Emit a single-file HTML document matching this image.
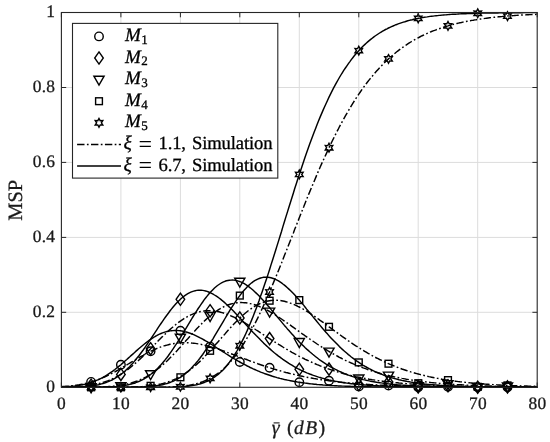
<!DOCTYPE html>
<html><head><meta charset="utf-8"><title>MSP plot</title>
<style>html,body{margin:0;padding:0;background:#fff}body{width:550px;height:442px;position:relative;overflow:hidden}</style>
</head><body>
<svg width="550" height="442" viewBox="0 0 550 442" text-rendering="geometricPrecision" style="position:absolute;left:0;top:0">
<rect width="550" height="442" fill="#fff"/>
<path d="M120.9,12.5 V387.3 M180.4,12.5 V387.3 M239.8,12.5 V387.3 M299.3,12.5 V387.3 M358.8,12.5 V387.3 M418.2,12.5 V387.3 M477.7,12.5 V387.3 M61.4,312.3 H537.2 M61.4,237.4 H537.2 M61.4,162.4 H537.2 M61.4,87.5 H537.2" stroke="#dcdcdc" stroke-width="1" fill="none"/>
<g fill="none" stroke="#000" stroke-width="1.45" stroke-linejoin="round">
<path d="M61.4,387.0 L62.9,386.9 L64.4,386.8 L65.9,386.7 L67.3,386.6 L68.8,386.5 L70.3,386.4 L71.8,386.3 L73.3,386.1 L74.8,386.0 L76.3,385.8 L77.8,385.6 L79.2,385.4 L80.7,385.1 L82.2,384.8 L83.7,384.5 L85.2,384.2 L86.7,383.8 L88.2,383.4 L89.7,383.0 L91.1,382.5 L92.6,382.0 L94.1,381.4 L95.6,380.9 L97.1,380.2 L98.6,379.6 L100.1,378.8 L101.5,378.1 L103.0,377.3 L104.5,376.5 L106.0,375.6 L107.5,374.7 L109.0,373.7 L110.5,372.7 L112.0,371.7 L113.4,370.6 L114.9,369.5 L116.4,368.3 L117.9,367.1 L119.4,365.9 L120.9,364.7 L122.4,363.4 L123.8,362.1 L125.3,360.8 L126.8,359.5 L128.3,358.1 L129.8,356.8 L131.3,355.4 L132.8,354.1 L134.3,352.8 L135.7,351.4 L137.2,350.1 L138.7,348.8 L140.2,347.5 L141.7,346.2 L143.2,345.0 L144.7,343.8 L146.2,342.6 L147.6,341.5 L149.1,340.4 L150.6,339.4 L152.1,338.4 L153.6,337.4 L155.1,336.5 L156.6,335.7 L158.0,334.9 L159.5,334.2 L161.0,333.5 L162.5,332.9 L164.0,332.4 L165.5,331.9 L167.0,331.5 L168.5,331.2 L169.9,330.9 L171.4,330.7 L172.9,330.6 L174.4,330.5 L175.9,330.5 L177.4,330.5 L178.9,330.6 L180.4,330.8 L181.8,331.0 L183.3,331.3 L184.8,331.7 L186.3,332.0 L187.8,332.5 L189.3,333.0 L190.8,333.5 L192.2,334.1 L193.7,334.7 L195.2,335.4 L196.7,336.1 L198.2,336.8 L199.7,337.6 L201.2,338.3 L202.7,339.2 L204.1,340.0 L205.6,340.9 L207.1,341.7 L208.6,342.6 L210.1,343.6 L211.6,344.5 L213.1,345.4 L214.5,346.4 L216.0,347.3 L217.5,348.3 L219.0,349.2 L220.5,350.2 L222.0,351.1 L223.5,352.1 L225.0,353.0 L226.4,354.0 L227.9,354.9 L229.4,355.8 L230.9,356.8 L232.4,357.7 L233.9,358.6 L235.4,359.4 L236.9,360.3 L238.3,361.2 L239.8,362.0 L241.3,362.8 L242.8,363.7 L244.3,364.4 L245.8,365.2 L247.3,366.0 L248.7,366.7 L250.2,367.5 L251.7,368.2 L253.2,368.9 L254.7,369.5 L256.2,370.2 L257.7,370.8 L259.2,371.4 L260.6,372.1 L262.1,372.6 L263.6,373.2 L265.1,373.8 L266.6,374.3 L268.1,374.8 L269.6,375.3 L271.0,375.8 L272.5,376.3 L274.0,376.7 L275.5,377.1 L277.0,377.6 L278.5,378.0 L280.0,378.4 L281.5,378.7 L282.9,379.1 L284.4,379.5 L285.9,379.8 L287.4,380.1 L288.9,380.4 L290.4,380.7 L291.9,381.0 L293.4,381.3 L294.8,381.6 L296.3,381.8 L297.8,382.1 L299.3,382.3 L300.8,382.5 L302.3,382.7 L303.8,382.9 L305.2,383.1 L306.7,383.3 L308.2,383.5 L309.7,383.7 L311.2,383.9 L312.7,384.0 L314.2,384.2 L315.7,384.3 L317.1,384.5 L318.6,384.6 L320.1,384.7 L321.6,384.8 L323.1,385.0 L324.6,385.1 L326.1,385.2 L327.6,385.3 L329.0,385.4 L330.5,385.5 L332.0,385.6 L333.5,385.6 L335.0,385.7 L336.5,385.8 L338.0,385.9 L339.4,385.9 L340.9,386.0 L342.4,386.1 L343.9,386.1 L345.4,386.2 L346.9,386.2 L348.4,386.3 L349.9,386.3 L351.3,386.4 L352.8,386.4 L354.3,386.5 L355.8,386.5 L357.3,386.6 L358.8,386.6 L360.3,386.6 L361.7,386.7 L363.2,386.7 L364.7,386.7 L366.2,386.8 L367.7,386.8 L369.2,386.8 L370.7,386.8 L372.2,386.9 L373.6,386.9 L375.1,386.9 L376.6,386.9 L378.1,386.9 L379.6,387.0 L381.1,387.0 L382.6,387.0 L384.1,387.0 L385.5,387.0 L387.0,387.0 L388.5,387.0 L390.0,387.1 L391.5,387.1 L393.0,387.1 L394.5,387.1 L395.9,387.1 L397.4,387.1 L398.9,387.1 L400.4,387.1 L401.9,387.1 L403.4,387.2 L404.9,387.2 L406.4,387.2 L407.8,387.2 L409.3,387.2 L410.8,387.2 L412.3,387.2 L413.8,387.2 L415.3,387.2 L416.8,387.2 L418.2,387.2 L419.7,387.2 L421.2,387.2 L422.7,387.2 L424.2,387.2 L425.7,387.2 L427.2,387.2 L428.7,387.2 L430.1,387.2 L431.6,387.2 L433.1,387.2 L434.6,387.3 L436.1,387.3 L437.6,387.3 L439.1,387.3 L440.6,387.3 L442.0,387.3 L443.5,387.3 L445.0,387.3 L446.5,387.3 L448.0,387.3 L449.5,387.3 L451.0,387.3 L452.4,387.3 L453.9,387.3 L455.4,387.3 L456.9,387.3 L458.4,387.3 L459.9,387.3 L461.4,387.3 L462.9,387.3 L464.3,387.3 L465.8,387.3 L467.3,387.3 L468.8,387.3 L470.3,387.3 L471.8,387.3 L473.3,387.3 L474.8,387.3 L476.2,387.3 L477.7,387.3 L479.2,387.3 L480.7,387.3 L482.2,387.3 L483.7,387.3 L485.2,387.3 L486.6,387.3 L488.1,387.3 L489.6,387.3 L491.1,387.3 L492.6,387.3 L494.1,387.3 L495.6,387.3 L497.1,387.3 L498.5,387.3 L500.0,387.3 L501.5,387.3 L503.0,387.3 L504.5,387.3 L506.0,387.3 L507.5,387.3 L508.9,387.3 L510.4,387.3 L511.9,387.3 L513.4,387.3 L514.9,387.3 L516.4,387.3 L517.9,387.3 L519.4,387.3 L520.8,387.3 L522.3,387.3 L523.8,387.3 L525.3,387.3 L526.8,387.3 L528.3,387.3 L529.8,387.3 L531.3,387.3 L532.7,387.3 L534.2,387.3 L535.7,387.3 L537.2,387.3"/>
<path d="M61.4,387.3 L62.9,387.2 L64.4,387.2 L65.9,387.2 L67.3,387.2 L68.8,387.2 L70.3,387.2 L71.8,387.1 L73.3,387.1 L74.8,387.1 L76.3,387.0 L77.8,387.0 L79.2,386.9 L80.7,386.8 L82.2,386.7 L83.7,386.7 L85.2,386.5 L86.7,386.4 L88.2,386.3 L89.7,386.1 L91.1,385.9 L92.6,385.7 L94.1,385.5 L95.6,385.3 L97.1,385.0 L98.6,384.7 L100.1,384.3 L101.5,383.9 L103.0,383.5 L104.5,383.0 L106.0,382.5 L107.5,381.9 L109.0,381.3 L110.5,380.7 L112.0,380.0 L113.4,379.2 L114.9,378.3 L116.4,377.4 L117.9,376.5 L119.4,375.5 L120.9,374.4 L122.4,373.2 L123.8,372.0 L125.3,370.7 L126.8,369.3 L128.3,367.9 L129.8,366.4 L131.3,364.8 L132.8,363.2 L134.3,361.4 L135.7,359.7 L137.2,357.8 L138.7,356.0 L140.2,354.0 L141.7,352.0 L143.2,350.0 L144.7,347.9 L146.2,345.7 L147.6,343.6 L149.1,341.4 L150.6,339.2 L152.1,336.9 L153.6,334.7 L155.1,332.4 L156.6,330.2 L158.0,327.9 L159.5,325.7 L161.0,323.5 L162.5,321.3 L164.0,319.2 L165.5,317.0 L167.0,315.0 L168.5,313.0 L169.9,311.0 L171.4,309.1 L172.9,307.3 L174.4,305.5 L175.9,303.8 L177.4,302.2 L178.9,300.7 L180.4,299.3 L181.8,298.0 L183.3,296.8 L184.8,295.6 L186.3,294.6 L187.8,293.7 L189.3,292.9 L190.8,292.2 L192.2,291.6 L193.7,291.1 L195.2,290.7 L196.7,290.4 L198.2,290.3 L199.7,290.2 L201.2,290.3 L202.7,290.4 L204.1,290.6 L205.6,291.0 L207.1,291.4 L208.6,292.0 L210.1,292.6 L211.6,293.3 L213.1,294.1 L214.5,295.0 L216.0,295.9 L217.5,296.9 L219.0,298.0 L220.5,299.1 L222.0,300.4 L223.5,301.6 L225.0,302.9 L226.4,304.3 L227.9,305.7 L229.4,307.1 L230.9,308.6 L232.4,310.1 L233.9,311.6 L235.4,313.2 L236.9,314.8 L238.3,316.4 L239.8,318.0 L241.3,319.6 L242.8,321.2 L244.3,322.8 L245.8,324.4 L247.3,326.1 L248.7,327.7 L250.2,329.3 L251.7,330.9 L253.2,332.5 L254.7,334.0 L256.2,335.6 L257.7,337.1 L259.2,338.6 L260.6,340.1 L262.1,341.6 L263.6,343.1 L265.1,344.5 L266.6,345.9 L268.1,347.2 L269.6,348.6 L271.0,349.9 L272.5,351.2 L274.0,352.5 L275.5,353.7 L277.0,354.9 L278.5,356.1 L280.0,357.2 L281.5,358.3 L282.9,359.4 L284.4,360.4 L285.9,361.4 L287.4,362.4 L288.9,363.4 L290.4,364.3 L291.9,365.2 L293.4,366.1 L294.8,367.0 L296.3,367.8 L297.8,368.6 L299.3,369.3 L300.8,370.1 L302.3,370.8 L303.8,371.5 L305.2,372.1 L306.7,372.8 L308.2,373.4 L309.7,374.0 L311.2,374.5 L312.7,375.1 L314.2,375.6 L315.7,376.1 L317.1,376.6 L318.6,377.1 L320.1,377.5 L321.6,378.0 L323.1,378.4 L324.6,378.8 L326.1,379.2 L327.6,379.5 L329.0,379.9 L330.5,380.2 L332.0,380.6 L333.5,380.9 L335.0,381.2 L336.5,381.4 L338.0,381.7 L339.4,382.0 L340.9,382.2 L342.4,382.5 L343.9,382.7 L345.4,382.9 L346.9,383.1 L348.4,383.3 L349.9,383.5 L351.3,383.7 L352.8,383.9 L354.3,384.0 L355.8,384.2 L357.3,384.3 L358.8,384.5 L360.3,384.6 L361.7,384.7 L363.2,384.9 L364.7,385.0 L366.2,385.1 L367.7,385.2 L369.2,385.3 L370.7,385.4 L372.2,385.5 L373.6,385.6 L375.1,385.7 L376.6,385.8 L378.1,385.8 L379.6,385.9 L381.1,386.0 L382.6,386.0 L384.1,386.1 L385.5,386.2 L387.0,386.2 L388.5,386.3 L390.0,386.3 L391.5,386.4 L393.0,386.4 L394.5,386.5 L395.9,386.5 L397.4,386.5 L398.9,386.6 L400.4,386.6 L401.9,386.7 L403.4,386.7 L404.9,386.7 L406.4,386.7 L407.8,386.8 L409.3,386.8 L410.8,386.8 L412.3,386.8 L413.8,386.9 L415.3,386.9 L416.8,386.9 L418.2,386.9 L419.7,387.0 L421.2,387.0 L422.7,387.0 L424.2,387.0 L425.7,387.0 L427.2,387.0 L428.7,387.0 L430.1,387.1 L431.6,387.1 L433.1,387.1 L434.6,387.1 L436.1,387.1 L437.6,387.1 L439.1,387.1 L440.6,387.1 L442.0,387.1 L443.5,387.2 L445.0,387.2 L446.5,387.2 L448.0,387.2 L449.5,387.2 L451.0,387.2 L452.4,387.2 L453.9,387.2 L455.4,387.2 L456.9,387.2 L458.4,387.2 L459.9,387.2 L461.4,387.2 L462.9,387.2 L464.3,387.2 L465.8,387.2 L467.3,387.2 L468.8,387.2 L470.3,387.2 L471.8,387.2 L473.3,387.2 L474.8,387.3 L476.2,387.3 L477.7,387.3 L479.2,387.3 L480.7,387.3 L482.2,387.3 L483.7,387.3 L485.2,387.3 L486.6,387.3 L488.1,387.3 L489.6,387.3 L491.1,387.3 L492.6,387.3 L494.1,387.3 L495.6,387.3 L497.1,387.3 L498.5,387.3 L500.0,387.3 L501.5,387.3 L503.0,387.3 L504.5,387.3 L506.0,387.3 L507.5,387.3 L508.9,387.3 L510.4,387.3 L511.9,387.3 L513.4,387.3 L514.9,387.3 L516.4,387.3 L517.9,387.3 L519.4,387.3 L520.8,387.3 L522.3,387.3 L523.8,387.3 L525.3,387.3 L526.8,387.3 L528.3,387.3 L529.8,387.3 L531.3,387.3 L532.7,387.3 L534.2,387.3 L535.7,387.3 L537.2,387.3"/>
<path d="M61.4,387.3 L62.9,387.3 L64.4,387.3 L65.9,387.3 L67.3,387.3 L68.8,387.3 L70.3,387.3 L71.8,387.3 L73.3,387.3 L74.8,387.3 L76.3,387.3 L77.8,387.3 L79.2,387.3 L80.7,387.3 L82.2,387.3 L83.7,387.3 L85.2,387.3 L86.7,387.3 L88.2,387.3 L89.7,387.3 L91.1,387.3 L92.6,387.3 L94.1,387.2 L95.6,387.2 L97.1,387.2 L98.6,387.2 L100.1,387.2 L101.5,387.1 L103.0,387.1 L104.5,387.1 L106.0,387.0 L107.5,387.0 L109.0,386.9 L110.5,386.9 L112.0,386.8 L113.4,386.7 L114.9,386.6 L116.4,386.5 L117.9,386.3 L119.4,386.2 L120.9,386.0 L122.4,385.8 L123.8,385.6 L125.3,385.3 L126.8,385.1 L128.3,384.8 L129.8,384.4 L131.3,384.0 L132.8,383.6 L134.3,383.2 L135.7,382.7 L137.2,382.1 L138.7,381.5 L140.2,380.8 L141.7,380.1 L143.2,379.3 L144.7,378.5 L146.2,377.6 L147.6,376.6 L149.1,375.6 L150.6,374.5 L152.1,373.3 L153.6,372.1 L155.1,370.8 L156.6,369.4 L158.0,367.9 L159.5,366.3 L161.0,364.7 L162.5,363.0 L164.0,361.2 L165.5,359.4 L167.0,357.5 L168.5,355.5 L169.9,353.4 L171.4,351.3 L172.9,349.2 L174.4,346.9 L175.9,344.7 L177.4,342.3 L178.9,340.0 L180.4,337.6 L181.8,335.2 L183.3,332.7 L184.8,330.3 L186.3,327.8 L187.8,325.3 L189.3,322.9 L190.8,320.4 L192.2,318.0 L193.7,315.6 L195.2,313.2 L196.7,310.8 L198.2,308.5 L199.7,306.3 L201.2,304.1 L202.7,302.0 L204.1,299.9 L205.6,298.0 L207.1,296.1 L208.6,294.3 L210.1,292.6 L211.6,290.9 L213.1,289.4 L214.5,288.0 L216.0,286.7 L217.5,285.5 L219.0,284.5 L220.5,283.5 L222.0,282.6 L223.5,281.9 L225.0,281.3 L226.4,280.8 L227.9,280.5 L229.4,280.2 L230.9,280.1 L232.4,280.0 L233.9,280.1 L235.4,280.3 L236.9,280.6 L238.3,281.1 L239.8,281.6 L241.3,282.2 L242.8,282.9 L244.3,283.7 L245.8,284.6 L247.3,285.6 L248.7,286.7 L250.2,287.8 L251.7,289.0 L253.2,290.3 L254.7,291.7 L256.2,293.1 L257.7,294.5 L259.2,296.0 L260.6,297.6 L262.1,299.2 L263.6,300.8 L265.1,302.5 L266.6,304.2 L268.1,305.9 L269.6,307.6 L271.0,309.4 L272.5,311.2 L274.0,312.9 L275.5,314.7 L277.0,316.5 L278.5,318.3 L280.0,320.1 L281.5,321.9 L282.9,323.6 L284.4,325.4 L285.9,327.1 L287.4,328.9 L288.9,330.6 L290.4,332.3 L291.9,333.9 L293.4,335.6 L294.8,337.2 L296.3,338.8 L297.8,340.3 L299.3,341.9 L300.8,343.4 L302.3,344.9 L303.8,346.3 L305.2,347.7 L306.7,349.1 L308.2,350.4 L309.7,351.8 L311.2,353.0 L312.7,354.3 L314.2,355.5 L315.7,356.7 L317.1,357.8 L318.6,359.0 L320.1,360.1 L321.6,361.1 L323.1,362.1 L324.6,363.1 L326.1,364.1 L327.6,365.0 L329.0,365.9 L330.5,366.8 L332.0,367.6 L333.5,368.4 L335.0,369.2 L336.5,369.9 L338.0,370.7 L339.4,371.4 L340.9,372.0 L342.4,372.7 L343.9,373.3 L345.4,373.9 L346.9,374.5 L348.4,375.1 L349.9,375.6 L351.3,376.1 L352.8,376.6 L354.3,377.1 L355.8,377.5 L357.3,378.0 L358.8,378.4 L360.3,378.8 L361.7,379.2 L363.2,379.6 L364.7,379.9 L366.2,380.3 L367.7,380.6 L369.2,380.9 L370.7,381.2 L372.2,381.5 L373.6,381.7 L375.1,382.0 L376.6,382.3 L378.1,382.5 L379.6,382.7 L381.1,382.9 L382.6,383.1 L384.1,383.3 L385.5,383.5 L387.0,383.7 L388.5,383.9 L390.0,384.0 L391.5,384.2 L393.0,384.4 L394.5,384.5 L395.9,384.6 L397.4,384.8 L398.9,384.9 L400.4,385.0 L401.9,385.1 L403.4,385.2 L404.9,385.3 L406.4,385.4 L407.8,385.5 L409.3,385.6 L410.8,385.7 L412.3,385.8 L413.8,385.8 L415.3,385.9 L416.8,386.0 L418.2,386.0 L419.7,386.1 L421.2,386.2 L422.7,386.2 L424.2,386.3 L425.7,386.3 L427.2,386.4 L428.7,386.4 L430.1,386.5 L431.6,386.5 L433.1,386.6 L434.6,386.6 L436.1,386.6 L437.6,386.7 L439.1,386.7 L440.6,386.7 L442.0,386.8 L443.5,386.8 L445.0,386.8 L446.5,386.8 L448.0,386.9 L449.5,386.9 L451.0,386.9 L452.4,386.9 L453.9,386.9 L455.4,387.0 L456.9,387.0 L458.4,387.0 L459.9,387.0 L461.4,387.0 L462.9,387.0 L464.3,387.1 L465.8,387.1 L467.3,387.1 L468.8,387.1 L470.3,387.1 L471.8,387.1 L473.3,387.1 L474.8,387.1 L476.2,387.1 L477.7,387.1 L479.2,387.2 L480.7,387.2 L482.2,387.2 L483.7,387.2 L485.2,387.2 L486.6,387.2 L488.1,387.2 L489.6,387.2 L491.1,387.2 L492.6,387.2 L494.1,387.2 L495.6,387.2 L497.1,387.2 L498.5,387.2 L500.0,387.2 L501.5,387.2 L503.0,387.2 L504.5,387.2 L506.0,387.2 L507.5,387.2 L508.9,387.2 L510.4,387.3 L511.9,387.3 L513.4,387.3 L514.9,387.3 L516.4,387.3 L517.9,387.3 L519.4,387.3 L520.8,387.3 L522.3,387.3 L523.8,387.3 L525.3,387.3 L526.8,387.3 L528.3,387.3 L529.8,387.3 L531.3,387.3 L532.7,387.3 L534.2,387.3 L535.7,387.3 L537.2,387.3"/>
<path d="M61.4,387.3 L62.9,387.3 L64.4,387.3 L65.9,387.3 L67.3,387.3 L68.8,387.3 L70.3,387.3 L71.8,387.3 L73.3,387.3 L74.8,387.3 L76.3,387.3 L77.8,387.3 L79.2,387.3 L80.7,387.3 L82.2,387.3 L83.7,387.3 L85.2,387.3 L86.7,387.3 L88.2,387.3 L89.7,387.3 L91.1,387.3 L92.6,387.3 L94.1,387.3 L95.6,387.3 L97.1,387.3 L98.6,387.3 L100.1,387.3 L101.5,387.3 L103.0,387.3 L104.5,387.3 L106.0,387.3 L107.5,387.3 L109.0,387.3 L110.5,387.3 L112.0,387.3 L113.4,387.3 L114.9,387.3 L116.4,387.3 L117.9,387.3 L119.4,387.3 L120.9,387.3 L122.4,387.3 L123.8,387.3 L125.3,387.3 L126.8,387.3 L128.3,387.2 L129.8,387.2 L131.3,387.2 L132.8,387.2 L134.3,387.2 L135.7,387.1 L137.2,387.1 L138.7,387.1 L140.2,387.0 L141.7,387.0 L143.2,386.9 L144.7,386.8 L146.2,386.8 L147.6,386.7 L149.1,386.6 L150.6,386.4 L152.1,386.3 L153.6,386.1 L155.1,385.9 L156.6,385.7 L158.0,385.5 L159.5,385.3 L161.0,385.0 L162.5,384.7 L164.0,384.3 L165.5,383.9 L167.0,383.5 L168.5,383.0 L169.9,382.5 L171.4,381.9 L172.9,381.3 L174.4,380.6 L175.9,379.8 L177.4,379.0 L178.9,378.2 L180.4,377.3 L181.8,376.3 L183.3,375.2 L184.8,374.1 L186.3,372.8 L187.8,371.6 L189.3,370.2 L190.8,368.8 L192.2,367.2 L193.7,365.6 L195.2,364.0 L196.7,362.2 L198.2,360.4 L199.7,358.5 L201.2,356.5 L202.7,354.5 L204.1,352.4 L205.6,350.2 L207.1,348.0 L208.6,345.7 L210.1,343.4 L211.6,341.0 L213.1,338.6 L214.5,336.2 L216.0,333.7 L217.5,331.2 L219.0,328.7 L220.5,326.1 L222.0,323.6 L223.5,321.1 L225.0,318.5 L226.4,316.1 L227.9,313.6 L229.4,311.1 L230.9,308.7 L232.4,306.4 L233.9,304.1 L235.4,301.9 L236.9,299.7 L238.3,297.6 L239.8,295.6 L241.3,293.6 L242.8,291.8 L244.3,290.0 L245.8,288.4 L247.3,286.8 L248.7,285.4 L250.2,284.0 L251.7,282.8 L253.2,281.7 L254.7,280.7 L256.2,279.9 L257.7,279.1 L259.2,278.5 L260.6,278.0 L262.1,277.6 L263.6,277.3 L265.1,277.2 L266.6,277.2 L268.1,277.3 L269.6,277.5 L271.0,277.8 L272.5,278.2 L274.0,278.7 L275.5,279.4 L277.0,280.1 L278.5,280.9 L280.0,281.9 L281.5,282.9 L282.9,284.0 L284.4,285.1 L285.9,286.4 L287.4,287.7 L288.9,289.1 L290.4,290.5 L291.9,292.0 L293.4,293.5 L294.8,295.1 L296.3,296.8 L297.8,298.4 L299.3,300.1 L300.8,301.9 L302.3,303.6 L303.8,305.4 L305.2,307.2 L306.7,309.1 L308.2,310.9 L309.7,312.7 L311.2,314.5 L312.7,316.4 L314.2,318.2 L315.7,320.0 L317.1,321.8 L318.6,323.6 L320.1,325.4 L321.6,327.2 L323.1,329.0 L324.6,330.7 L326.1,332.4 L327.6,334.1 L329.0,335.8 L330.5,337.4 L332.0,339.0 L333.5,340.6 L335.0,342.1 L336.5,343.6 L338.0,345.1 L339.4,346.6 L340.9,348.0 L342.4,349.4 L343.9,350.7 L345.4,352.0 L346.9,353.3 L348.4,354.6 L349.9,355.8 L351.3,357.0 L352.8,358.1 L354.3,359.2 L355.8,360.3 L357.3,361.4 L358.8,362.4 L360.3,363.4 L361.7,364.3 L363.2,365.3 L364.7,366.2 L366.2,367.0 L367.7,367.8 L369.2,368.7 L370.7,369.4 L372.2,370.2 L373.6,370.9 L375.1,371.6 L376.6,372.3 L378.1,372.9 L379.6,373.5 L381.1,374.1 L382.6,374.7 L384.1,375.3 L385.5,375.8 L387.0,376.3 L388.5,376.8 L390.0,377.2 L391.5,377.7 L393.0,378.1 L394.5,378.5 L395.9,378.9 L397.4,379.3 L398.9,379.7 L400.4,380.0 L401.9,380.4 L403.4,380.7 L404.9,381.0 L406.4,381.3 L407.8,381.6 L409.3,381.8 L410.8,382.1 L412.3,382.3 L413.8,382.6 L415.3,382.8 L416.8,383.0 L418.2,383.2 L419.7,383.4 L421.2,383.6 L422.7,383.8 L424.2,383.9 L425.7,384.1 L427.2,384.3 L428.7,384.4 L430.1,384.5 L431.6,384.7 L433.1,384.8 L434.6,384.9 L436.1,385.0 L437.6,385.2 L439.1,385.3 L440.6,385.4 L442.0,385.5 L443.5,385.6 L445.0,385.6 L446.5,385.7 L448.0,385.8 L449.5,385.9 L451.0,385.9 L452.4,386.0 L453.9,386.1 L455.4,386.1 L456.9,386.2 L458.4,386.2 L459.9,386.3 L461.4,386.4 L462.9,386.4 L464.3,386.4 L465.8,386.5 L467.3,386.5 L468.8,386.6 L470.3,386.6 L471.8,386.6 L473.3,386.7 L474.8,386.7 L476.2,386.7 L477.7,386.8 L479.2,386.8 L480.7,386.8 L482.2,386.8 L483.7,386.9 L485.2,386.9 L486.6,386.9 L488.1,386.9 L489.6,386.9 L491.1,387.0 L492.6,387.0 L494.1,387.0 L495.6,387.0 L497.1,387.0 L498.5,387.0 L500.0,387.1 L501.5,387.1 L503.0,387.1 L504.5,387.1 L506.0,387.1 L507.5,387.1 L508.9,387.1 L510.4,387.1 L511.9,387.1 L513.4,387.1 L514.9,387.2 L516.4,387.2 L517.9,387.2 L519.4,387.2 L520.8,387.2 L522.3,387.2 L523.8,387.2 L525.3,387.2 L526.8,387.2 L528.3,387.2 L529.8,387.2 L531.3,387.2 L532.7,387.2 L534.2,387.2 L535.7,387.2 L537.2,387.2"/>
<path d="M61.4,387.3 L62.9,387.3 L64.4,387.3 L65.9,387.3 L67.3,387.3 L68.8,387.3 L70.3,387.3 L71.8,387.3 L73.3,387.3 L74.8,387.3 L76.3,387.3 L77.8,387.3 L79.2,387.3 L80.7,387.3 L82.2,387.3 L83.7,387.3 L85.2,387.3 L86.7,387.3 L88.2,387.3 L89.7,387.3 L91.1,387.3 L92.6,387.3 L94.1,387.3 L95.6,387.3 L97.1,387.3 L98.6,387.3 L100.1,387.3 L101.5,387.3 L103.0,387.3 L104.5,387.3 L106.0,387.3 L107.5,387.3 L109.0,387.3 L110.5,387.3 L112.0,387.3 L113.4,387.3 L114.9,387.3 L116.4,387.3 L117.9,387.3 L119.4,387.3 L120.9,387.3 L122.4,387.3 L123.8,387.3 L125.3,387.3 L126.8,387.3 L128.3,387.3 L129.8,387.3 L131.3,387.3 L132.8,387.3 L134.3,387.3 L135.7,387.3 L137.2,387.3 L138.7,387.3 L140.2,387.3 L141.7,387.3 L143.2,387.3 L144.7,387.3 L146.2,387.3 L147.6,387.3 L149.1,387.3 L150.6,387.3 L152.1,387.3 L153.6,387.3 L155.1,387.3 L156.6,387.3 L158.0,387.3 L159.5,387.3 L161.0,387.3 L162.5,387.2 L164.0,387.2 L165.5,387.2 L167.0,387.2 L168.5,387.2 L169.9,387.1 L171.4,387.1 L172.9,387.1 L174.4,387.0 L175.9,387.0 L177.4,386.9 L178.9,386.9 L180.4,386.8 L181.8,386.7 L183.3,386.6 L184.8,386.5 L186.3,386.3 L187.8,386.2 L189.3,386.0 L190.8,385.8 L192.2,385.6 L193.7,385.3 L195.2,385.0 L196.7,384.7 L198.2,384.3 L199.7,384.0 L201.2,383.5 L202.7,383.0 L204.1,382.5 L205.6,381.9 L207.1,381.3 L208.6,380.6 L210.1,379.8 L211.6,379.0 L213.1,378.0 L214.5,377.1 L216.0,376.0 L217.5,374.9 L219.0,373.6 L220.5,372.3 L222.0,370.9 L223.5,369.4 L225.0,367.8 L226.4,366.1 L227.9,364.2 L229.4,362.3 L230.9,360.3 L232.4,358.1 L233.9,355.9 L235.4,353.5 L236.9,351.0 L238.3,348.4 L239.8,345.7 L241.3,342.9 L242.8,339.9 L244.3,336.9 L245.8,333.7 L247.3,330.4 L248.7,327.0 L250.2,323.5 L251.7,319.9 L253.2,316.2 L254.7,312.3 L256.2,308.4 L257.7,304.4 L259.2,300.3 L260.6,296.1 L262.1,291.9 L263.6,287.5 L265.1,283.1 L266.6,278.7 L268.1,274.1 L269.6,269.5 L271.0,264.9 L272.5,260.2 L274.0,255.5 L275.5,250.7 L277.0,245.9 L278.5,241.1 L280.0,236.3 L281.5,231.5 L282.9,226.6 L284.4,221.8 L285.9,216.9 L287.4,212.1 L288.9,207.3 L290.4,202.5 L291.9,197.7 L293.4,193.0 L294.8,188.3 L296.3,183.7 L297.8,179.0 L299.3,174.5 L300.8,170.0 L302.3,165.5 L303.8,161.1 L305.2,156.7 L306.7,152.5 L308.2,148.2 L309.7,144.1 L311.2,140.0 L312.7,136.0 L314.2,132.1 L315.7,128.2 L317.1,124.4 L318.6,120.7 L320.1,117.1 L321.6,113.6 L323.1,110.1 L324.6,106.8 L326.1,103.5 L327.6,100.2 L329.0,97.1 L330.5,94.1 L332.0,91.1 L333.5,88.2 L335.0,85.4 L336.5,82.7 L338.0,80.0 L339.4,77.5 L340.9,75.0 L342.4,72.6 L343.9,70.2 L345.4,68.0 L346.9,65.8 L348.4,63.6 L349.9,61.6 L351.3,59.6 L352.8,57.7 L354.3,55.8 L355.8,54.0 L357.3,52.3 L358.8,50.7 L360.3,49.1 L361.7,47.5 L363.2,46.0 L364.7,44.6 L366.2,43.2 L367.7,41.9 L369.2,40.6 L370.7,39.4 L372.2,38.2 L373.6,37.1 L375.1,36.0 L376.6,35.0 L378.1,34.0 L379.6,33.0 L381.1,32.1 L382.6,31.2 L384.1,30.3 L385.5,29.5 L387.0,28.8 L388.5,28.0 L390.0,27.3 L391.5,26.6 L393.0,26.0 L394.5,25.3 L395.9,24.7 L397.4,24.2 L398.9,23.6 L400.4,23.1 L401.9,22.6 L403.4,22.1 L404.9,21.7 L406.4,21.2 L407.8,20.8 L409.3,20.4 L410.8,20.0 L412.3,19.7 L413.8,19.3 L415.3,19.0 L416.8,18.7 L418.2,18.4 L419.7,18.1 L421.2,17.8 L422.7,17.6 L424.2,17.3 L425.7,17.1 L427.2,16.9 L428.7,16.6 L430.1,16.4 L431.6,16.2 L433.1,16.1 L434.6,15.9 L436.1,15.7 L437.6,15.6 L439.1,15.4 L440.6,15.3 L442.0,15.1 L443.5,15.0 L445.0,14.9 L446.5,14.8 L448.0,14.6 L449.5,14.5 L451.0,14.4 L452.4,14.3 L453.9,14.2 L455.4,14.2 L456.9,14.1 L458.4,14.0 L459.9,13.9 L461.4,13.8 L462.9,13.8 L464.3,13.7 L465.8,13.7 L467.3,13.6 L468.8,13.5 L470.3,13.5 L471.8,13.4 L473.3,13.4 L474.8,13.3 L476.2,13.3 L477.7,13.3 L479.2,13.2 L480.7,13.2 L482.2,13.1 L483.7,13.1 L485.2,13.1 L486.6,13.1 L488.1,13.0 L489.6,13.0 L491.1,13.0 L492.6,12.9 L494.1,12.9 L495.6,12.9 L497.1,12.9 L498.5,12.9 L500.0,12.8 L501.5,12.8 L503.0,12.8 L504.5,12.8 L506.0,12.8 L507.5,12.8 L508.9,12.8 L510.4,12.7 L511.9,12.7 L513.4,12.7 L514.9,12.7 L516.4,12.7 L517.9,12.7 L519.4,12.7 L520.8,12.7 L522.3,12.7 L523.8,12.6 L525.3,12.6 L526.8,12.6 L528.3,12.6 L529.8,12.6 L531.3,12.6 L532.7,12.6 L534.2,12.6 L535.7,12.6 L537.2,12.6"/>
<path d="M61.4,386.6 L62.9,386.5 L64.4,386.4 L65.9,386.3 L67.3,386.2 L68.8,386.1 L70.3,385.9 L71.8,385.7 L73.3,385.6 L74.8,385.4 L76.3,385.2 L77.8,384.9 L79.2,384.7 L80.7,384.4 L82.2,384.1 L83.7,383.8 L85.2,383.5 L86.7,383.1 L88.2,382.7 L89.7,382.3 L91.1,381.9 L92.6,381.5 L94.1,381.0 L95.6,380.5 L97.1,380.0 L98.6,379.4 L100.1,378.8 L101.5,378.2 L103.0,377.6 L104.5,377.0 L106.0,376.3 L107.5,375.6 L109.0,374.9 L110.5,374.1 L112.0,373.4 L113.4,372.6 L114.9,371.8 L116.4,371.0 L117.9,370.2 L119.4,369.3 L120.9,368.5 L122.4,367.6 L123.8,366.7 L125.3,365.8 L126.8,364.9 L128.3,364.0 L129.8,363.1 L131.3,362.2 L132.8,361.3 L134.3,360.4 L135.7,359.6 L137.2,358.7 L138.7,357.8 L140.2,356.9 L141.7,356.1 L143.2,355.3 L144.7,354.4 L146.2,353.6 L147.6,352.8 L149.1,352.1 L150.6,351.3 L152.1,350.6 L153.6,349.9 L155.1,349.3 L156.6,348.6 L158.0,348.0 L159.5,347.5 L161.0,346.9 L162.5,346.4 L164.0,345.9 L165.5,345.5 L167.0,345.1 L168.5,344.7 L169.9,344.3 L171.4,344.0 L172.9,343.7 L174.4,343.5 L175.9,343.3 L177.4,343.1 L178.9,342.9 L180.4,342.8 L181.8,342.7 L183.3,342.7 L184.8,342.7 L186.3,342.7 L187.8,342.7 L189.3,342.8 L190.8,342.9 L192.2,343.1 L193.7,343.2 L195.2,343.4 L196.7,343.6 L198.2,343.9 L199.7,344.2 L201.2,344.4 L202.7,344.8 L204.1,345.1 L205.6,345.5 L207.1,345.8 L208.6,346.2 L210.1,346.6 L211.6,347.1 L213.1,347.5 L214.5,348.0 L216.0,348.4 L217.5,348.9 L219.0,349.4 L220.5,349.9 L222.0,350.4 L223.5,350.9 L225.0,351.5 L226.4,352.0 L227.9,352.6 L229.4,353.1 L230.9,353.7 L232.4,354.2 L233.9,354.8 L235.4,355.3 L236.9,355.9 L238.3,356.5 L239.8,357.0 L241.3,357.6 L242.8,358.2 L244.3,358.7 L245.8,359.3 L247.3,359.8 L248.7,360.4 L250.2,361.0 L251.7,361.5 L253.2,362.0 L254.7,362.6 L256.2,363.1 L257.7,363.7 L259.2,364.2 L260.6,364.7 L262.1,365.2 L263.6,365.7 L265.1,366.2 L266.6,366.7 L268.1,367.2 L269.6,367.7 L271.0,368.1 L272.5,368.6 L274.0,369.1 L275.5,369.5 L277.0,370.0 L278.5,370.4 L280.0,370.8 L281.5,371.2 L282.9,371.7 L284.4,372.1 L285.9,372.5 L287.4,372.8 L288.9,373.2 L290.4,373.6 L291.9,374.0 L293.4,374.3 L294.8,374.7 L296.3,375.0 L297.8,375.3 L299.3,375.7 L300.8,376.0 L302.3,376.3 L303.8,376.6 L305.2,376.9 L306.7,377.2 L308.2,377.5 L309.7,377.8 L311.2,378.0 L312.7,378.3 L314.2,378.6 L315.7,378.8 L317.1,379.1 L318.6,379.3 L320.1,379.5 L321.6,379.8 L323.1,380.0 L324.6,380.2 L326.1,380.4 L327.6,380.6 L329.0,380.8 L330.5,381.0 L332.0,381.2 L333.5,381.4 L335.0,381.5 L336.5,381.7 L338.0,381.9 L339.4,382.1 L340.9,382.2 L342.4,382.4 L343.9,382.5 L345.4,382.7 L346.9,382.8 L348.4,382.9 L349.9,383.1 L351.3,383.2 L352.8,383.3 L354.3,383.5 L355.8,383.6 L357.3,383.7 L358.8,383.8 L360.3,383.9 L361.7,384.0 L363.2,384.1 L364.7,384.2 L366.2,384.3 L367.7,384.4 L369.2,384.5 L370.7,384.6 L372.2,384.7 L373.6,384.8 L375.1,384.8 L376.6,384.9 L378.1,385.0 L379.6,385.1 L381.1,385.1 L382.6,385.2 L384.1,385.3 L385.5,385.3 L387.0,385.4 L388.5,385.5 L390.0,385.5 L391.5,385.6 L393.0,385.6 L394.5,385.7 L395.9,385.7 L397.4,385.8 L398.9,385.8 L400.4,385.9 L401.9,385.9 L403.4,386.0 L404.9,386.0 L406.4,386.1 L407.8,386.1 L409.3,386.1 L410.8,386.2 L412.3,386.2 L413.8,386.3 L415.3,386.3 L416.8,386.3 L418.2,386.4 L419.7,386.4 L421.2,386.4 L422.7,386.4 L424.2,386.5 L425.7,386.5 L427.2,386.5 L428.7,386.6 L430.1,386.6 L431.6,386.6 L433.1,386.6 L434.6,386.6 L436.1,386.7 L437.6,386.7 L439.1,386.7 L440.6,386.7 L442.0,386.7 L443.5,386.8 L445.0,386.8 L446.5,386.8 L448.0,386.8 L449.5,386.8 L451.0,386.9 L452.4,386.9 L453.9,386.9 L455.4,386.9 L456.9,386.9 L458.4,386.9 L459.9,386.9 L461.4,386.9 L462.9,387.0 L464.3,387.0 L465.8,387.0 L467.3,387.0 L468.8,387.0 L470.3,387.0 L471.8,387.0 L473.3,387.0 L474.8,387.0 L476.2,387.0 L477.7,387.1 L479.2,387.1 L480.7,387.1 L482.2,387.1 L483.7,387.1 L485.2,387.1 L486.6,387.1 L488.1,387.1 L489.6,387.1 L491.1,387.1 L492.6,387.1 L494.1,387.1 L495.6,387.1 L497.1,387.1 L498.5,387.1 L500.0,387.2 L501.5,387.2 L503.0,387.2 L504.5,387.2 L506.0,387.2 L507.5,387.2 L508.9,387.2 L510.4,387.2 L511.9,387.2 L513.4,387.2 L514.9,387.2 L516.4,387.2 L517.9,387.2 L519.4,387.2 L520.8,387.2 L522.3,387.2 L523.8,387.2 L525.3,387.2 L526.8,387.2 L528.3,387.2 L529.8,387.2 L531.3,387.2 L532.7,387.2 L534.2,387.2 L535.7,387.2 L537.2,387.2" stroke-dasharray="7.4,2.4,1.7,2.4"/>
<path d="M61.4,387.2 L62.9,387.1 L64.4,387.1 L65.9,387.1 L67.3,387.1 L68.8,387.0 L70.3,387.0 L71.8,386.9 L73.3,386.8 L74.8,386.8 L76.3,386.7 L77.8,386.6 L79.2,386.5 L80.7,386.4 L82.2,386.3 L83.7,386.1 L85.2,386.0 L86.7,385.8 L88.2,385.6 L89.7,385.4 L91.1,385.2 L92.6,384.9 L94.1,384.6 L95.6,384.3 L97.1,384.0 L98.6,383.7 L100.1,383.3 L101.5,382.9 L103.0,382.4 L104.5,381.9 L106.0,381.4 L107.5,380.9 L109.0,380.3 L110.5,379.7 L112.0,379.0 L113.4,378.3 L114.9,377.6 L116.4,376.8 L117.9,376.0 L119.4,375.1 L120.9,374.2 L122.4,373.3 L123.8,372.3 L125.3,371.3 L126.8,370.2 L128.3,369.1 L129.8,367.9 L131.3,366.7 L132.8,365.5 L134.3,364.3 L135.7,363.0 L137.2,361.7 L138.7,360.3 L140.2,358.9 L141.7,357.5 L143.2,356.1 L144.7,354.6 L146.2,353.2 L147.6,351.7 L149.1,350.2 L150.6,348.7 L152.1,347.2 L153.6,345.6 L155.1,344.1 L156.6,342.6 L158.0,341.1 L159.5,339.6 L161.0,338.1 L162.5,336.6 L164.0,335.2 L165.5,333.7 L167.0,332.3 L168.5,330.9 L169.9,329.6 L171.4,328.2 L172.9,327.0 L174.4,325.7 L175.9,324.5 L177.4,323.3 L178.9,322.2 L180.4,321.1 L181.8,320.1 L183.3,319.1 L184.8,318.1 L186.3,317.3 L187.8,316.4 L189.3,315.6 L190.8,314.9 L192.2,314.3 L193.7,313.7 L195.2,313.1 L196.7,312.6 L198.2,312.2 L199.7,311.8 L201.2,311.5 L202.7,311.2 L204.1,311.0 L205.6,310.8 L207.1,310.7 L208.6,310.7 L210.1,310.7 L211.6,310.8 L213.1,310.9 L214.5,311.1 L216.0,311.3 L217.5,311.5 L219.0,311.8 L220.5,312.2 L222.0,312.6 L223.5,313.0 L225.0,313.5 L226.4,314.0 L227.9,314.6 L229.4,315.2 L230.9,315.8 L232.4,316.5 L233.9,317.1 L235.4,317.9 L236.9,318.6 L238.3,319.4 L239.8,320.2 L241.3,321.0 L242.8,321.8 L244.3,322.7 L245.8,323.5 L247.3,324.4 L248.7,325.3 L250.2,326.2 L251.7,327.2 L253.2,328.1 L254.7,329.0 L256.2,330.0 L257.7,330.9 L259.2,331.9 L260.6,332.9 L262.1,333.8 L263.6,334.8 L265.1,335.8 L266.6,336.7 L268.1,337.7 L269.6,338.6 L271.0,339.6 L272.5,340.6 L274.0,341.5 L275.5,342.4 L277.0,343.4 L278.5,344.3 L280.0,345.2 L281.5,346.1 L282.9,347.0 L284.4,347.9 L285.9,348.8 L287.4,349.7 L288.9,350.6 L290.4,351.4 L291.9,352.3 L293.4,353.1 L294.8,353.9 L296.3,354.7 L297.8,355.5 L299.3,356.3 L300.8,357.0 L302.3,357.8 L303.8,358.5 L305.2,359.3 L306.7,360.0 L308.2,360.7 L309.7,361.4 L311.2,362.0 L312.7,362.7 L314.2,363.3 L315.7,364.0 L317.1,364.6 L318.6,365.2 L320.1,365.8 L321.6,366.4 L323.1,367.0 L324.6,367.5 L326.1,368.1 L327.6,368.6 L329.0,369.1 L330.5,369.6 L332.0,370.1 L333.5,370.6 L335.0,371.1 L336.5,371.5 L338.0,372.0 L339.4,372.4 L340.9,372.9 L342.4,373.3 L343.9,373.7 L345.4,374.1 L346.9,374.5 L348.4,374.8 L349.9,375.2 L351.3,375.6 L352.8,375.9 L354.3,376.2 L355.8,376.6 L357.3,376.9 L358.8,377.2 L360.3,377.5 L361.7,377.8 L363.2,378.1 L364.7,378.4 L366.2,378.6 L367.7,378.9 L369.2,379.2 L370.7,379.4 L372.2,379.7 L373.6,379.9 L375.1,380.1 L376.6,380.3 L378.1,380.6 L379.6,380.8 L381.1,381.0 L382.6,381.2 L384.1,381.4 L385.5,381.5 L387.0,381.7 L388.5,381.9 L390.0,382.1 L391.5,382.2 L393.0,382.4 L394.5,382.6 L395.9,382.7 L397.4,382.8 L398.9,383.0 L400.4,383.1 L401.9,383.3 L403.4,383.4 L404.9,383.5 L406.4,383.6 L407.8,383.8 L409.3,383.9 L410.8,384.0 L412.3,384.1 L413.8,384.2 L415.3,384.3 L416.8,384.4 L418.2,384.5 L419.7,384.6 L421.2,384.7 L422.7,384.7 L424.2,384.8 L425.7,384.9 L427.2,385.0 L428.7,385.1 L430.1,385.1 L431.6,385.2 L433.1,385.3 L434.6,385.3 L436.1,385.4 L437.6,385.5 L439.1,385.5 L440.6,385.6 L442.0,385.6 L443.5,385.7 L445.0,385.7 L446.5,385.8 L448.0,385.8 L449.5,385.9 L451.0,385.9 L452.4,386.0 L453.9,386.0 L455.4,386.1 L456.9,386.1 L458.4,386.2 L459.9,386.2 L461.4,386.2 L462.9,386.3 L464.3,386.3 L465.8,386.3 L467.3,386.4 L468.8,386.4 L470.3,386.4 L471.8,386.5 L473.3,386.5 L474.8,386.5 L476.2,386.5 L477.7,386.6 L479.2,386.6 L480.7,386.6 L482.2,386.6 L483.7,386.7 L485.2,386.7 L486.6,386.7 L488.1,386.7 L489.6,386.7 L491.1,386.8 L492.6,386.8 L494.1,386.8 L495.6,386.8 L497.1,386.8 L498.5,386.8 L500.0,386.9 L501.5,386.9 L503.0,386.9 L504.5,386.9 L506.0,386.9 L507.5,386.9 L508.9,386.9 L510.4,387.0 L511.9,387.0 L513.4,387.0 L514.9,387.0 L516.4,387.0 L517.9,387.0 L519.4,387.0 L520.8,387.0 L522.3,387.0 L523.8,387.0 L525.3,387.1 L526.8,387.1 L528.3,387.1 L529.8,387.1 L531.3,387.1 L532.7,387.1 L534.2,387.1 L535.7,387.1 L537.2,387.1" stroke-dasharray="7.4,2.4,1.7,2.4"/>
<path d="M61.4,387.3 L62.9,387.3 L64.4,387.3 L65.9,387.3 L67.3,387.3 L68.8,387.3 L70.3,387.3 L71.8,387.3 L73.3,387.3 L74.8,387.3 L76.3,387.3 L77.8,387.3 L79.2,387.3 L80.7,387.3 L82.2,387.3 L83.7,387.3 L85.2,387.2 L86.7,387.2 L88.2,387.2 L89.7,387.2 L91.1,387.2 L92.6,387.2 L94.1,387.1 L95.6,387.1 L97.1,387.1 L98.6,387.0 L100.1,387.0 L101.5,386.9 L103.0,386.9 L104.5,386.8 L106.0,386.7 L107.5,386.6 L109.0,386.5 L110.5,386.4 L112.0,386.3 L113.4,386.2 L114.9,386.0 L116.4,385.9 L117.9,385.7 L119.4,385.5 L120.9,385.2 L122.4,385.0 L123.8,384.7 L125.3,384.4 L126.8,384.1 L128.3,383.7 L129.8,383.4 L131.3,383.0 L132.8,382.5 L134.3,382.0 L135.7,381.5 L137.2,381.0 L138.7,380.4 L140.2,379.7 L141.7,379.1 L143.2,378.4 L144.7,377.6 L146.2,376.8 L147.6,376.0 L149.1,375.1 L150.6,374.1 L152.1,373.2 L153.6,372.1 L155.1,371.1 L156.6,369.9 L158.0,368.8 L159.5,367.6 L161.0,366.3 L162.5,365.1 L164.0,363.7 L165.5,362.4 L167.0,361.0 L168.5,359.5 L169.9,358.0 L171.4,356.5 L172.9,355.0 L174.4,353.4 L175.9,351.9 L177.4,350.3 L178.9,348.6 L180.4,347.0 L181.8,345.3 L183.3,343.7 L184.8,342.0 L186.3,340.3 L187.8,338.7 L189.3,337.0 L190.8,335.3 L192.2,333.7 L193.7,332.1 L195.2,330.4 L196.7,328.8 L198.2,327.3 L199.7,325.7 L201.2,324.2 L202.7,322.7 L204.1,321.3 L205.6,319.9 L207.1,318.5 L208.6,317.2 L210.1,315.9 L211.6,314.7 L213.1,313.5 L214.5,312.4 L216.0,311.4 L217.5,310.4 L219.0,309.4 L220.5,308.5 L222.0,307.7 L223.5,306.9 L225.0,306.2 L226.4,305.6 L227.9,305.0 L229.4,304.5 L230.9,304.0 L232.4,303.6 L233.9,303.3 L235.4,303.0 L236.9,302.8 L238.3,302.7 L239.8,302.6 L241.3,302.5 L242.8,302.6 L244.3,302.7 L245.8,302.8 L247.3,303.0 L248.7,303.3 L250.2,303.6 L251.7,303.9 L253.2,304.3 L254.7,304.8 L256.2,305.3 L257.7,305.8 L259.2,306.4 L260.6,307.1 L262.1,307.7 L263.6,308.4 L265.1,309.2 L266.6,309.9 L268.1,310.7 L269.6,311.5 L271.0,312.4 L272.5,313.3 L274.0,314.2 L275.5,315.1 L277.0,316.1 L278.5,317.0 L280.0,318.0 L281.5,319.0 L282.9,320.0 L284.4,321.1 L285.9,322.1 L287.4,323.1 L288.9,324.2 L290.4,325.2 L291.9,326.3 L293.4,327.4 L294.8,328.4 L296.3,329.5 L297.8,330.6 L299.3,331.6 L300.8,332.7 L302.3,333.8 L303.8,334.8 L305.2,335.9 L306.7,336.9 L308.2,338.0 L309.7,339.0 L311.2,340.0 L312.7,341.0 L314.2,342.0 L315.7,343.0 L317.1,344.0 L318.6,345.0 L320.1,345.9 L321.6,346.9 L323.1,347.8 L324.6,348.8 L326.1,349.7 L327.6,350.6 L329.0,351.5 L330.5,352.3 L332.0,353.2 L333.5,354.0 L335.0,354.9 L336.5,355.7 L338.0,356.5 L339.4,357.3 L340.9,358.0 L342.4,358.8 L343.9,359.5 L345.4,360.3 L346.9,361.0 L348.4,361.7 L349.9,362.3 L351.3,363.0 L352.8,363.7 L354.3,364.3 L355.8,364.9 L357.3,365.6 L358.8,366.2 L360.3,366.7 L361.7,367.3 L363.2,367.9 L364.7,368.4 L366.2,368.9 L367.7,369.5 L369.2,370.0 L370.7,370.5 L372.2,371.0 L373.6,371.4 L375.1,371.9 L376.6,372.3 L378.1,372.8 L379.6,373.2 L381.1,373.6 L382.6,374.0 L384.1,374.4 L385.5,374.8 L387.0,375.2 L388.5,375.5 L390.0,375.9 L391.5,376.2 L393.0,376.5 L394.5,376.9 L395.9,377.2 L397.4,377.5 L398.9,377.8 L400.4,378.1 L401.9,378.4 L403.4,378.6 L404.9,378.9 L406.4,379.2 L407.8,379.4 L409.3,379.7 L410.8,379.9 L412.3,380.1 L413.8,380.3 L415.3,380.6 L416.8,380.8 L418.2,381.0 L419.7,381.2 L421.2,381.4 L422.7,381.6 L424.2,381.7 L425.7,381.9 L427.2,382.1 L428.7,382.2 L430.1,382.4 L431.6,382.6 L433.1,382.7 L434.6,382.9 L436.1,383.0 L437.6,383.1 L439.1,383.3 L440.6,383.4 L442.0,383.5 L443.5,383.6 L445.0,383.8 L446.5,383.9 L448.0,384.0 L449.5,384.1 L451.0,384.2 L452.4,384.3 L453.9,384.4 L455.4,384.5 L456.9,384.6 L458.4,384.7 L459.9,384.8 L461.4,384.8 L462.9,384.9 L464.3,385.0 L465.8,385.1 L467.3,385.1 L468.8,385.2 L470.3,385.3 L471.8,385.4 L473.3,385.4 L474.8,385.5 L476.2,385.5 L477.7,385.6 L479.2,385.7 L480.7,385.7 L482.2,385.8 L483.7,385.8 L485.2,385.9 L486.6,385.9 L488.1,386.0 L489.6,386.0 L491.1,386.0 L492.6,386.1 L494.1,386.1 L495.6,386.2 L497.1,386.2 L498.5,386.2 L500.0,386.3 L501.5,386.3 L503.0,386.3 L504.5,386.4 L506.0,386.4 L507.5,386.4 L508.9,386.5 L510.4,386.5 L511.9,386.5 L513.4,386.5 L514.9,386.6 L516.4,386.6 L517.9,386.6 L519.4,386.6 L520.8,386.7 L522.3,386.7 L523.8,386.7 L525.3,386.7 L526.8,386.7 L528.3,386.8 L529.8,386.8 L531.3,386.8 L532.7,386.8 L534.2,386.8 L535.7,386.8 L537.2,386.9" stroke-dasharray="7.4,2.4,1.7,2.4"/>
<path d="M61.4,387.3 L62.9,387.3 L64.4,387.3 L65.9,387.3 L67.3,387.3 L68.8,387.3 L70.3,387.3 L71.8,387.3 L73.3,387.3 L74.8,387.3 L76.3,387.3 L77.8,387.3 L79.2,387.3 L80.7,387.3 L82.2,387.3 L83.7,387.3 L85.2,387.3 L86.7,387.3 L88.2,387.3 L89.7,387.3 L91.1,387.3 L92.6,387.3 L94.1,387.3 L95.6,387.3 L97.1,387.3 L98.6,387.3 L100.1,387.3 L101.5,387.3 L103.0,387.3 L104.5,387.3 L106.0,387.3 L107.5,387.3 L109.0,387.3 L110.5,387.3 L112.0,387.3 L113.4,387.3 L114.9,387.3 L116.4,387.3 L117.9,387.2 L119.4,387.2 L120.9,387.2 L122.4,387.2 L123.8,387.2 L125.3,387.2 L126.8,387.1 L128.3,387.1 L129.8,387.1 L131.3,387.1 L132.8,387.0 L134.3,387.0 L135.7,386.9 L137.2,386.8 L138.7,386.8 L140.2,386.7 L141.7,386.6 L143.2,386.5 L144.7,386.4 L146.2,386.3 L147.6,386.1 L149.1,386.0 L150.6,385.8 L152.1,385.6 L153.6,385.4 L155.1,385.2 L156.6,384.9 L158.0,384.6 L159.5,384.3 L161.0,384.0 L162.5,383.6 L164.0,383.2 L165.5,382.8 L167.0,382.3 L168.5,381.8 L169.9,381.3 L171.4,380.7 L172.9,380.1 L174.4,379.5 L175.9,378.8 L177.4,378.0 L178.9,377.3 L180.4,376.4 L181.8,375.6 L183.3,374.7 L184.8,373.7 L186.3,372.7 L187.8,371.6 L189.3,370.5 L190.8,369.4 L192.2,368.2 L193.7,367.0 L195.2,365.7 L196.7,364.4 L198.2,363.0 L199.7,361.6 L201.2,360.2 L202.7,358.7 L204.1,357.2 L205.6,355.6 L207.1,354.1 L208.6,352.5 L210.1,350.8 L211.6,349.2 L213.1,347.5 L214.5,345.8 L216.0,344.1 L217.5,342.4 L219.0,340.7 L220.5,339.0 L222.0,337.3 L223.5,335.6 L225.0,333.9 L226.4,332.2 L227.9,330.5 L229.4,328.9 L230.9,327.2 L232.4,325.6 L233.9,324.0 L235.4,322.5 L236.9,321.0 L238.3,319.5 L239.8,318.1 L241.3,316.7 L242.8,315.3 L244.3,314.0 L245.8,312.7 L247.3,311.5 L248.7,310.4 L250.2,309.3 L251.7,308.3 L253.2,307.3 L254.7,306.4 L256.2,305.5 L257.7,304.7 L259.2,304.0 L260.6,303.3 L262.1,302.7 L263.6,302.2 L265.1,301.7 L266.6,301.3 L268.1,301.0 L269.6,300.7 L271.0,300.5 L272.5,300.4 L274.0,300.3 L275.5,300.2 L277.0,300.3 L278.5,300.4 L280.0,300.5 L281.5,300.7 L282.9,301.0 L284.4,301.3 L285.9,301.7 L287.4,302.1 L288.9,302.5 L290.4,303.1 L291.9,303.6 L293.4,304.2 L294.8,304.9 L296.3,305.5 L297.8,306.3 L299.3,307.0 L300.8,307.8 L302.3,308.6 L303.8,309.5 L305.2,310.3 L306.7,311.2 L308.2,312.2 L309.7,313.1 L311.2,314.1 L312.7,315.1 L314.2,316.1 L315.7,317.1 L317.1,318.2 L318.6,319.2 L320.1,320.3 L321.6,321.3 L323.1,322.4 L324.6,323.5 L326.1,324.6 L327.6,325.7 L329.0,326.8 L330.5,327.9 L332.0,329.0 L333.5,330.1 L335.0,331.2 L336.5,332.3 L338.0,333.3 L339.4,334.4 L340.9,335.5 L342.4,336.6 L343.9,337.6 L345.4,338.7 L346.9,339.7 L348.4,340.8 L349.9,341.8 L351.3,342.8 L352.8,343.8 L354.3,344.8 L355.8,345.8 L357.3,346.7 L358.8,347.7 L360.3,348.6 L361.7,349.5 L363.2,350.4 L364.7,351.3 L366.2,352.2 L367.7,353.1 L369.2,353.9 L370.7,354.8 L372.2,355.6 L373.6,356.4 L375.1,357.2 L376.6,358.0 L378.1,358.7 L379.6,359.5 L381.1,360.2 L382.6,360.9 L384.1,361.6 L385.5,362.3 L387.0,363.0 L388.5,363.7 L390.0,364.3 L391.5,364.9 L393.0,365.5 L394.5,366.1 L395.9,366.7 L397.4,367.3 L398.9,367.9 L400.4,368.4 L401.9,369.0 L403.4,369.5 L404.9,370.0 L406.4,370.5 L407.8,371.0 L409.3,371.4 L410.8,371.9 L412.3,372.3 L413.8,372.8 L415.3,373.2 L416.8,373.6 L418.2,374.0 L419.7,374.4 L421.2,374.8 L422.7,375.2 L424.2,375.5 L425.7,375.9 L427.2,376.2 L428.7,376.6 L430.1,376.9 L431.6,377.2 L433.1,377.5 L434.6,377.8 L436.1,378.1 L437.6,378.4 L439.1,378.7 L440.6,378.9 L442.0,379.2 L443.5,379.4 L445.0,379.7 L446.5,379.9 L448.0,380.1 L449.5,380.4 L451.0,380.6 L452.4,380.8 L453.9,381.0 L455.4,381.2 L456.9,381.4 L458.4,381.6 L459.9,381.8 L461.4,381.9 L462.9,382.1 L464.3,382.3 L465.8,382.4 L467.3,382.6 L468.8,382.7 L470.3,382.9 L471.8,383.0 L473.3,383.2 L474.8,383.3 L476.2,383.4 L477.7,383.5 L479.2,383.7 L480.7,383.8 L482.2,383.9 L483.7,384.0 L485.2,384.1 L486.6,384.2 L488.1,384.3 L489.6,384.4 L491.1,384.5 L492.6,384.6 L494.1,384.7 L495.6,384.8 L497.1,384.9 L498.5,384.9 L500.0,385.0 L501.5,385.1 L503.0,385.2 L504.5,385.2 L506.0,385.3 L507.5,385.4 L508.9,385.4 L510.4,385.5 L511.9,385.5 L513.4,385.6 L514.9,385.7 L516.4,385.7 L517.9,385.8 L519.4,385.8 L520.8,385.9 L522.3,385.9 L523.8,386.0 L525.3,386.0 L526.8,386.0 L528.3,386.1 L529.8,386.1 L531.3,386.2 L532.7,386.2 L534.2,386.2 L535.7,386.3 L537.2,386.3" stroke-dasharray="7.4,2.4,1.7,2.4"/>
<path d="M61.4,387.3 L62.9,387.3 L64.4,387.3 L65.9,387.3 L67.3,387.3 L68.8,387.3 L70.3,387.3 L71.8,387.3 L73.3,387.3 L74.8,387.3 L76.3,387.3 L77.8,387.3 L79.2,387.3 L80.7,387.3 L82.2,387.3 L83.7,387.3 L85.2,387.3 L86.7,387.3 L88.2,387.3 L89.7,387.3 L91.1,387.3 L92.6,387.3 L94.1,387.3 L95.6,387.3 L97.1,387.3 L98.6,387.3 L100.1,387.3 L101.5,387.3 L103.0,387.3 L104.5,387.3 L106.0,387.3 L107.5,387.3 L109.0,387.3 L110.5,387.3 L112.0,387.3 L113.4,387.3 L114.9,387.3 L116.4,387.3 L117.9,387.3 L119.4,387.3 L120.9,387.3 L122.4,387.3 L123.8,387.3 L125.3,387.3 L126.8,387.3 L128.3,387.3 L129.8,387.3 L131.3,387.3 L132.8,387.3 L134.3,387.3 L135.7,387.3 L137.2,387.3 L138.7,387.3 L140.2,387.3 L141.7,387.3 L143.2,387.3 L144.7,387.3 L146.2,387.3 L147.6,387.3 L149.1,387.3 L150.6,387.3 L152.1,387.3 L153.6,387.2 L155.1,387.2 L156.6,387.2 L158.0,387.2 L159.5,387.2 L161.0,387.2 L162.5,387.1 L164.0,387.1 L165.5,387.1 L167.0,387.0 L168.5,387.0 L169.9,386.9 L171.4,386.9 L172.9,386.8 L174.4,386.7 L175.9,386.6 L177.4,386.5 L178.9,386.4 L180.4,386.3 L181.8,386.1 L183.3,386.0 L184.8,385.8 L186.3,385.6 L187.8,385.4 L189.3,385.2 L190.8,384.9 L192.2,384.6 L193.7,384.3 L195.2,383.9 L196.7,383.6 L198.2,383.1 L199.7,382.7 L201.2,382.2 L202.7,381.7 L204.1,381.1 L205.6,380.5 L207.1,379.8 L208.6,379.1 L210.1,378.4 L211.6,377.5 L213.1,376.7 L214.5,375.7 L216.0,374.7 L217.5,373.7 L219.0,372.6 L220.5,371.4 L222.0,370.2 L223.5,368.8 L225.0,367.5 L226.4,366.0 L227.9,364.5 L229.4,362.9 L230.9,361.2 L232.4,359.4 L233.9,357.6 L235.4,355.7 L236.9,353.7 L238.3,351.7 L239.8,349.5 L241.3,347.3 L242.8,345.0 L244.3,342.7 L245.8,340.2 L247.3,337.7 L248.7,335.1 L250.2,332.5 L251.7,329.7 L253.2,326.9 L254.7,324.0 L256.2,321.1 L257.7,318.1 L259.2,315.0 L260.6,311.9 L262.1,308.7 L263.6,305.5 L265.1,302.2 L266.6,298.8 L268.1,295.4 L269.6,292.0 L271.0,288.5 L272.5,285.0 L274.0,281.4 L275.5,277.8 L277.0,274.2 L278.5,270.5 L280.0,266.8 L281.5,263.1 L282.9,259.4 L284.4,255.6 L285.9,251.9 L287.4,248.1 L288.9,244.3 L290.4,240.5 L291.9,236.7 L293.4,232.9 L294.8,229.1 L296.3,225.4 L297.8,221.6 L299.3,217.8 L300.8,214.1 L302.3,210.3 L303.8,206.6 L305.2,202.9 L306.7,199.2 L308.2,195.5 L309.7,191.9 L311.2,188.3 L312.7,184.7 L314.2,181.2 L315.7,177.6 L317.1,174.2 L318.6,170.7 L320.1,167.3 L321.6,163.9 L323.1,160.6 L324.6,157.3 L326.1,154.1 L327.6,150.9 L329.0,147.7 L330.5,144.6 L332.0,141.5 L333.5,138.5 L335.0,135.5 L336.5,132.5 L338.0,129.7 L339.4,126.8 L340.9,124.0 L342.4,121.3 L343.9,118.6 L345.4,115.9 L346.9,113.3 L348.4,110.8 L349.9,108.3 L351.3,105.8 L352.8,103.4 L354.3,101.0 L355.8,98.7 L357.3,96.4 L358.8,94.2 L360.3,92.0 L361.7,89.9 L363.2,87.8 L364.7,85.8 L366.2,83.8 L367.7,81.8 L369.2,79.9 L370.7,78.1 L372.2,76.3 L373.6,74.5 L375.1,72.8 L376.6,71.1 L378.1,69.4 L379.6,67.8 L381.1,66.2 L382.6,64.7 L384.1,63.2 L385.5,61.7 L387.0,60.3 L388.5,58.9 L390.0,57.6 L391.5,56.3 L393.0,55.0 L394.5,53.7 L395.9,52.5 L397.4,51.3 L398.9,50.2 L400.4,49.1 L401.9,48.0 L403.4,46.9 L404.9,45.9 L406.4,44.9 L407.8,43.9 L409.3,42.9 L410.8,42.0 L412.3,41.1 L413.8,40.2 L415.3,39.4 L416.8,38.6 L418.2,37.8 L419.7,37.0 L421.2,36.2 L422.7,35.5 L424.2,34.8 L425.7,34.1 L427.2,33.4 L428.7,32.8 L430.1,32.1 L431.6,31.5 L433.1,30.9 L434.6,30.4 L436.1,29.8 L437.6,29.2 L439.1,28.7 L440.6,28.2 L442.0,27.7 L443.5,27.2 L445.0,26.8 L446.5,26.3 L448.0,25.9 L449.5,25.4 L451.0,25.0 L452.4,24.6 L453.9,24.2 L455.4,23.9 L456.9,23.5 L458.4,23.1 L459.9,22.8 L461.4,22.5 L462.9,22.1 L464.3,21.8 L465.8,21.5 L467.3,21.2 L468.8,21.0 L470.3,20.7 L471.8,20.4 L473.3,20.2 L474.8,19.9 L476.2,19.7 L477.7,19.4 L479.2,19.2 L480.7,19.0 L482.2,18.8 L483.7,18.6 L485.2,18.4 L486.6,18.2 L488.1,18.0 L489.6,17.8 L491.1,17.6 L492.6,17.5 L494.1,17.3 L495.6,17.1 L497.1,17.0 L498.5,16.8 L500.0,16.7 L501.5,16.6 L503.0,16.4 L504.5,16.3 L506.0,16.2 L507.5,16.0 L508.9,15.9 L510.4,15.8 L511.9,15.7 L513.4,15.6 L514.9,15.5 L516.4,15.4 L517.9,15.3 L519.4,15.2 L520.8,15.1 L522.3,15.0 L523.8,14.9 L525.3,14.9 L526.8,14.8 L528.3,14.7 L529.8,14.6 L531.3,14.6 L532.7,14.5 L534.2,14.4 L535.7,14.4 L537.2,14.3" stroke-dasharray="7.4,2.4,1.7,2.4"/>
</g>
<circle cx="120.9" cy="364.7" r="4.25" fill="none" stroke="#000" stroke-width="1.4" stroke-linejoin="miter"/>
<circle cx="180.4" cy="330.8" r="4.25" fill="none" stroke="#000" stroke-width="1.4" stroke-linejoin="miter"/>
<circle cx="239.8" cy="362.0" r="4.25" fill="none" stroke="#000" stroke-width="1.4" stroke-linejoin="miter"/>
<circle cx="299.3" cy="382.3" r="4.25" fill="none" stroke="#000" stroke-width="1.4" stroke-linejoin="miter"/>
<circle cx="358.8" cy="386.6" r="4.25" fill="none" stroke="#000" stroke-width="1.4" stroke-linejoin="miter"/>
<circle cx="418.2" cy="387.2" r="4.25" fill="none" stroke="#000" stroke-width="1.4" stroke-linejoin="miter"/>
<circle cx="477.7" cy="387.3" r="4.25" fill="none" stroke="#000" stroke-width="1.4" stroke-linejoin="miter"/>
<circle cx="91.1" cy="381.9" r="4.25" fill="none" stroke="#000" stroke-width="1.4" stroke-linejoin="miter"/>
<circle cx="150.6" cy="351.3" r="4.25" fill="none" stroke="#000" stroke-width="1.4" stroke-linejoin="miter"/>
<circle cx="210.1" cy="346.6" r="4.25" fill="none" stroke="#000" stroke-width="1.4" stroke-linejoin="miter"/>
<circle cx="269.6" cy="367.7" r="4.25" fill="none" stroke="#000" stroke-width="1.4" stroke-linejoin="miter"/>
<circle cx="329.0" cy="380.8" r="4.25" fill="none" stroke="#000" stroke-width="1.4" stroke-linejoin="miter"/>
<circle cx="388.5" cy="385.5" r="4.25" fill="none" stroke="#000" stroke-width="1.4" stroke-linejoin="miter"/>
<circle cx="448.0" cy="386.8" r="4.25" fill="none" stroke="#000" stroke-width="1.4" stroke-linejoin="miter"/>
<circle cx="507.5" cy="387.2" r="4.25" fill="none" stroke="#000" stroke-width="1.4" stroke-linejoin="miter"/>
<path d="M120.9,368.3 L125.2,374.4 L120.9,380.5 L116.6,374.4 Z" fill="none" stroke="#000" stroke-width="1.4" stroke-linejoin="miter"/>
<path d="M180.4,293.2 L184.7,299.3 L180.4,305.4 L176.1,299.3 Z" fill="none" stroke="#000" stroke-width="1.4" stroke-linejoin="miter"/>
<path d="M239.8,311.9 L244.1,318.0 L239.8,324.1 L235.5,318.0 Z" fill="none" stroke="#000" stroke-width="1.4" stroke-linejoin="miter"/>
<path d="M299.3,363.2 L303.6,369.3 L299.3,375.4 L295.0,369.3 Z" fill="none" stroke="#000" stroke-width="1.4" stroke-linejoin="miter"/>
<path d="M358.8,378.4 L363.1,384.5 L358.8,390.6 L354.5,384.5 Z" fill="none" stroke="#000" stroke-width="1.4" stroke-linejoin="miter"/>
<path d="M418.2,380.8 L422.6,386.9 L418.2,393.0 L413.9,386.9 Z" fill="none" stroke="#000" stroke-width="1.4" stroke-linejoin="miter"/>
<path d="M477.7,381.2 L482.0,387.3 L477.7,393.4 L473.4,387.3 Z" fill="none" stroke="#000" stroke-width="1.4" stroke-linejoin="miter"/>
<path d="M91.1,379.1 L95.4,385.2 L91.1,391.3 L86.8,385.2 Z" fill="none" stroke="#000" stroke-width="1.4" stroke-linejoin="miter"/>
<path d="M150.6,342.6 L154.9,348.7 L150.6,354.8 L146.3,348.7 Z" fill="none" stroke="#000" stroke-width="1.4" stroke-linejoin="miter"/>
<path d="M210.1,304.6 L214.4,310.7 L210.1,316.8 L205.8,310.7 Z" fill="none" stroke="#000" stroke-width="1.4" stroke-linejoin="miter"/>
<path d="M269.6,332.5 L273.9,338.6 L269.6,344.7 L265.3,338.6 Z" fill="none" stroke="#000" stroke-width="1.4" stroke-linejoin="miter"/>
<path d="M329.0,363.0 L333.3,369.1 L329.0,375.2 L324.7,369.1 Z" fill="none" stroke="#000" stroke-width="1.4" stroke-linejoin="miter"/>
<path d="M388.5,375.8 L392.8,381.9 L388.5,388.0 L384.2,381.9 Z" fill="none" stroke="#000" stroke-width="1.4" stroke-linejoin="miter"/>
<path d="M448.0,379.7 L452.3,385.8 L448.0,391.9 L443.7,385.8 Z" fill="none" stroke="#000" stroke-width="1.4" stroke-linejoin="miter"/>
<path d="M507.5,380.8 L511.8,386.9 L507.5,393.0 L503.2,386.9 Z" fill="none" stroke="#000" stroke-width="1.4" stroke-linejoin="miter"/>
<path d="M115.8,382.6 L126.0,382.6 L120.9,391.6 Z" fill="none" stroke="#000" stroke-width="1.4" stroke-linejoin="miter"/>
<path d="M175.3,334.2 L185.5,334.2 L180.4,343.2 Z" fill="none" stroke="#000" stroke-width="1.4" stroke-linejoin="miter"/>
<path d="M234.7,278.2 L244.9,278.2 L239.8,287.2 Z" fill="none" stroke="#000" stroke-width="1.4" stroke-linejoin="miter"/>
<path d="M294.2,338.5 L304.4,338.5 L299.3,347.5 Z" fill="none" stroke="#000" stroke-width="1.4" stroke-linejoin="miter"/>
<path d="M353.7,375.0 L363.9,375.0 L358.8,384.0 Z" fill="none" stroke="#000" stroke-width="1.4" stroke-linejoin="miter"/>
<path d="M413.1,382.6 L423.4,382.6 L418.2,391.6 Z" fill="none" stroke="#000" stroke-width="1.4" stroke-linejoin="miter"/>
<path d="M472.6,383.7 L482.8,383.7 L477.7,392.7 Z" fill="none" stroke="#000" stroke-width="1.4" stroke-linejoin="miter"/>
<path d="M86.0,383.8 L96.2,383.8 L91.1,392.8 Z" fill="none" stroke="#000" stroke-width="1.4" stroke-linejoin="miter"/>
<path d="M145.5,370.7 L155.7,370.7 L150.6,379.7 Z" fill="none" stroke="#000" stroke-width="1.4" stroke-linejoin="miter"/>
<path d="M205.0,312.5 L215.2,312.5 L210.1,321.5 Z" fill="none" stroke="#000" stroke-width="1.4" stroke-linejoin="miter"/>
<path d="M264.5,308.1 L274.7,308.1 L269.6,317.1 Z" fill="none" stroke="#000" stroke-width="1.4" stroke-linejoin="miter"/>
<path d="M323.9,348.1 L334.1,348.1 L329.0,357.1 Z" fill="none" stroke="#000" stroke-width="1.4" stroke-linejoin="miter"/>
<path d="M383.4,372.1 L393.6,372.1 L388.5,381.1 Z" fill="none" stroke="#000" stroke-width="1.4" stroke-linejoin="miter"/>
<path d="M442.9,380.6 L453.1,380.6 L448.0,389.6 Z" fill="none" stroke="#000" stroke-width="1.4" stroke-linejoin="miter"/>
<path d="M502.4,383.0 L512.6,383.0 L507.5,392.0 Z" fill="none" stroke="#000" stroke-width="1.4" stroke-linejoin="miter"/>
<rect x="117.5" y="383.9" width="6.8" height="6.8" fill="none" stroke="#000" stroke-width="1.4" stroke-linejoin="miter"/>
<rect x="177.0" y="373.9" width="6.8" height="6.8" fill="none" stroke="#000" stroke-width="1.4" stroke-linejoin="miter"/>
<rect x="236.4" y="292.2" width="6.8" height="6.8" fill="none" stroke="#000" stroke-width="1.4" stroke-linejoin="miter"/>
<rect x="295.9" y="296.7" width="6.8" height="6.8" fill="none" stroke="#000" stroke-width="1.4" stroke-linejoin="miter"/>
<rect x="355.4" y="359.0" width="6.8" height="6.8" fill="none" stroke="#000" stroke-width="1.4" stroke-linejoin="miter"/>
<rect x="414.9" y="379.8" width="6.8" height="6.8" fill="none" stroke="#000" stroke-width="1.4" stroke-linejoin="miter"/>
<rect x="474.3" y="383.4" width="6.8" height="6.8" fill="none" stroke="#000" stroke-width="1.4" stroke-linejoin="miter"/>
<rect x="87.7" y="383.9" width="6.8" height="6.8" fill="none" stroke="#000" stroke-width="1.4" stroke-linejoin="miter"/>
<rect x="147.2" y="382.4" width="6.8" height="6.8" fill="none" stroke="#000" stroke-width="1.4" stroke-linejoin="miter"/>
<rect x="206.7" y="347.4" width="6.8" height="6.8" fill="none" stroke="#000" stroke-width="1.4" stroke-linejoin="miter"/>
<rect x="266.2" y="297.3" width="6.8" height="6.8" fill="none" stroke="#000" stroke-width="1.4" stroke-linejoin="miter"/>
<rect x="325.6" y="323.4" width="6.8" height="6.8" fill="none" stroke="#000" stroke-width="1.4" stroke-linejoin="miter"/>
<rect x="385.1" y="360.3" width="6.8" height="6.8" fill="none" stroke="#000" stroke-width="1.4" stroke-linejoin="miter"/>
<rect x="444.6" y="376.7" width="6.8" height="6.8" fill="none" stroke="#000" stroke-width="1.4" stroke-linejoin="miter"/>
<rect x="504.1" y="382.0" width="6.8" height="6.8" fill="none" stroke="#000" stroke-width="1.4" stroke-linejoin="miter"/>
<polygon points="120.9,382.9 122.1,385.2 124.6,385.1 123.3,387.3 124.6,389.5 122.1,389.4 120.9,391.6 119.7,389.4 117.1,389.5 118.5,387.3 117.1,385.1 119.7,385.2" fill="none" stroke="#000" stroke-width="1.4" stroke-linejoin="miter"/>
<polygon points="180.4,382.4 181.6,384.7 184.1,384.6 182.8,386.8 184.1,389.0 181.6,388.9 180.4,391.1 179.2,388.9 176.6,389.0 178.0,386.8 176.6,384.6 179.2,384.7" fill="none" stroke="#000" stroke-width="1.4" stroke-linejoin="miter"/>
<polygon points="239.8,341.4 241.0,343.6 243.6,343.5 242.2,345.7 243.6,347.9 241.0,347.8 239.8,350.1 238.6,347.8 236.1,347.9 237.4,345.7 236.1,343.5 238.6,343.6" fill="none" stroke="#000" stroke-width="1.4" stroke-linejoin="miter"/>
<polygon points="299.3,170.1 300.5,172.4 303.1,172.3 301.7,174.5 303.1,176.6 300.5,176.6 299.3,178.8 298.1,176.6 295.5,176.6 296.9,174.5 295.5,172.3 298.1,172.4" fill="none" stroke="#000" stroke-width="1.4" stroke-linejoin="miter"/>
<polygon points="358.8,46.3 360.0,48.6 362.5,48.5 361.2,50.7 362.5,52.8 360.0,52.7 358.8,55.0 357.6,52.7 355.0,52.8 356.4,50.7 355.0,48.5 357.6,48.6" fill="none" stroke="#000" stroke-width="1.4" stroke-linejoin="miter"/>
<polygon points="418.2,14.0 419.4,16.3 422.0,16.2 420.6,18.4 422.0,20.6 419.4,20.5 418.2,22.7 417.1,20.5 414.5,20.6 415.9,18.4 414.5,16.2 417.1,16.3" fill="none" stroke="#000" stroke-width="1.4" stroke-linejoin="miter"/>
<polygon points="477.7,8.9 478.9,11.2 481.5,11.1 480.1,13.3 481.5,15.4 478.9,15.3 477.7,17.6 476.5,15.3 474.0,15.4 475.3,13.3 474.0,11.1 476.5,11.2" fill="none" stroke="#000" stroke-width="1.4" stroke-linejoin="miter"/>
<polygon points="91.1,382.9 92.3,385.2 94.9,385.1 93.5,387.3 94.9,389.5 92.3,389.4 91.1,391.6 89.9,389.4 87.4,389.5 88.7,387.3 87.4,385.1 89.9,385.2" fill="none" stroke="#000" stroke-width="1.4" stroke-linejoin="miter"/>
<polygon points="150.6,382.9 151.8,385.2 154.4,385.1 153.0,387.3 154.4,389.4 151.8,389.3 150.6,391.6 149.4,389.3 146.8,389.4 148.2,387.3 146.8,385.1 149.4,385.2" fill="none" stroke="#000" stroke-width="1.4" stroke-linejoin="miter"/>
<polygon points="210.1,374.0 211.3,376.3 213.9,376.2 212.5,378.4 213.9,380.5 211.3,380.4 210.1,382.7 208.9,380.4 206.3,380.5 207.7,378.4 206.3,376.2 208.9,376.3" fill="none" stroke="#000" stroke-width="1.4" stroke-linejoin="miter"/>
<polygon points="269.6,287.6 270.8,289.9 273.3,289.8 272.0,292.0 273.3,294.2 270.8,294.1 269.6,296.3 268.4,294.1 265.8,294.2 267.2,292.0 265.8,289.8 268.4,289.9" fill="none" stroke="#000" stroke-width="1.4" stroke-linejoin="miter"/>
<polygon points="329.0,143.3 330.2,145.6 332.8,145.5 331.4,147.7 332.8,149.9 330.2,149.8 329.0,152.0 327.8,149.8 325.3,149.9 326.6,147.7 325.3,145.5 327.8,145.6" fill="none" stroke="#000" stroke-width="1.4" stroke-linejoin="miter"/>
<polygon points="388.5,54.6 389.7,56.8 392.3,56.7 390.9,58.9 392.3,61.1 389.7,61.0 388.5,63.3 387.3,61.0 384.7,61.1 386.1,58.9 384.7,56.7 387.3,56.8" fill="none" stroke="#000" stroke-width="1.4" stroke-linejoin="miter"/>
<polygon points="448.0,21.5 449.2,23.8 451.8,23.7 450.4,25.9 451.8,28.0 449.2,27.9 448.0,30.2 446.8,27.9 444.2,28.0 445.6,25.9 444.2,23.7 446.8,23.8" fill="none" stroke="#000" stroke-width="1.4" stroke-linejoin="miter"/>
<polygon points="507.5,11.7 508.7,14.0 511.2,13.9 509.9,16.0 511.2,18.2 508.7,18.1 507.5,20.4 506.3,18.1 503.7,18.2 505.1,16.0 503.7,13.9 506.3,14.0" fill="none" stroke="#000" stroke-width="1.4" stroke-linejoin="miter"/>
<path d="M61.4,387.3 v-4.8 M61.4,12.5 v4.8 M120.9,387.3 v-4.8 M120.9,12.5 v4.8 M180.4,387.3 v-4.8 M180.4,12.5 v4.8 M239.8,387.3 v-4.8 M239.8,12.5 v4.8 M299.3,387.3 v-4.8 M299.3,12.5 v4.8 M358.8,387.3 v-4.8 M358.8,12.5 v4.8 M418.2,387.3 v-4.8 M418.2,12.5 v4.8 M477.7,387.3 v-4.8 M477.7,12.5 v4.8 M537.2,387.3 v-4.8 M537.2,12.5 v4.8 M61.4,387.3 h4.8 M537.2,387.3 h-4.8 M61.4,312.3 h4.8 M537.2,312.3 h-4.8 M61.4,237.4 h4.8 M537.2,237.4 h-4.8 M61.4,162.4 h4.8 M537.2,162.4 h-4.8 M61.4,87.5 h4.8 M537.2,87.5 h-4.8 M61.4,12.5 h4.8 M537.2,12.5 h-4.8" stroke="#262626" stroke-width="1" fill="none"/>
<rect x="61.4" y="12.5" width="475.8" height="374.8" fill="none" stroke="#262626" stroke-width="1.1"/>
<rect x="72.5" y="23.4" width="205.3" height="154.7" fill="#fff" stroke="#262626" stroke-width="1.1"/>
<circle cx="99.0" cy="36.4" r="4.25" fill="none" stroke="#000" stroke-width="1.4" stroke-linejoin="miter"/>
<path d="M99.0,51.9 L103.3,58.0 L99.0,64.1 L94.7,58.0 Z" fill="none" stroke="#000" stroke-width="1.4" stroke-linejoin="miter"/>
<path d="M93.9,76.2 L104.1,76.2 L99.0,85.2 Z" fill="none" stroke="#000" stroke-width="1.4" stroke-linejoin="miter"/>
<rect x="95.6" y="97.8" width="6.8" height="6.8" fill="none" stroke="#000" stroke-width="1.4" stroke-linejoin="miter"/>
<polygon points="99.0,118.5 100.2,120.7 102.8,120.6 101.4,122.8 102.8,125.0 100.2,124.9 99.0,127.2 97.8,124.9 95.2,125.0 96.6,122.8 95.2,120.6 97.8,120.7" fill="none" stroke="#000" stroke-width="1.4" stroke-linejoin="miter"/>
<path d="M77.1,144.4 H121" stroke="#000" stroke-width="1.45" stroke-dasharray="7.4,2.4,1.7,2.4" fill="none"/>
<path d="M77.1,166.0 H121" stroke="#000" stroke-width="1.45" fill="none"/>
<g font-family="Liberation Serif, serif" fill="#1a1a1a" font-size="17.4" letter-spacing="0.3" stroke="#1a1a1a" stroke-width="0.3">
<text x="61.4" y="409.4" text-anchor="middle" dx="0.2">0</text>
<text x="120.9" y="409.4" text-anchor="middle" dx="0.2">10</text>
<text x="180.4" y="409.4" text-anchor="middle" dx="0.2">20</text>
<text x="239.8" y="409.4" text-anchor="middle" dx="0.2">30</text>
<text x="299.3" y="409.4" text-anchor="middle" dx="0.2">40</text>
<text x="358.8" y="409.4" text-anchor="middle" dx="0.2">50</text>
<text x="418.2" y="409.4" text-anchor="middle" dx="0.2">60</text>
<text x="477.7" y="409.4" text-anchor="middle" dx="0.2">70</text>
<text x="537.2" y="409.4" text-anchor="middle" dx="0.2">80</text>
<text x="55.3" y="391.5" text-anchor="end">0</text>
<text x="55.3" y="316.5" text-anchor="end">0.2</text>
<text x="55.3" y="241.6" text-anchor="end">0.4</text>
<text x="55.3" y="166.6" text-anchor="end">0.6</text>
<text x="55.3" y="91.7" text-anchor="end">0.8</text>
<text x="55.3" y="16.7" text-anchor="end">1</text>
</g>
<g font-family="Liberation Serif, serif" fill="#000" font-size="18.6" stroke="#000" stroke-width="0.3">
<text x="125" y="41.0"><tspan font-style="italic" font-size="19">M</tspan><tspan font-size="13" dy="2.8" dx="0.3">1</tspan></text>
<text x="125" y="62.6"><tspan font-style="italic" font-size="19">M</tspan><tspan font-size="13" dy="2.8" dx="0.3">2</tspan></text>
<text x="125" y="84.2"><tspan font-style="italic" font-size="19">M</tspan><tspan font-size="13" dy="2.8" dx="0.3">3</tspan></text>
<text x="125" y="105.8"><tspan font-style="italic" font-size="19">M</tspan><tspan font-size="13" dy="2.8" dx="0.3">4</tspan></text>
<text x="125" y="127.4"><tspan font-style="italic" font-size="19">M</tspan><tspan font-size="13" dy="2.8" dx="0.3">5</tspan></text>
<text y="149.4"><tspan x="123.6" font-style="italic" font-size="19.5">ξ</tspan> <tspan x="138.5" y="151.8" font-size="24" stroke="none">=</tspan> <tspan x="158.6" y="149.4" textLength="27.4" lengthAdjust="spacing">1.1,</tspan> <tspan x="192" textLength="80.5" lengthAdjust="spacing">Simulation</tspan></text>
<text y="171.0"><tspan x="123.6" font-style="italic" font-size="19.5">ξ</tspan> <tspan x="138.5" y="173.4" font-size="24" stroke="none">=</tspan> <tspan x="158.6" y="171.0" textLength="27.4" lengthAdjust="spacing">6.7,</tspan> <tspan x="192" textLength="80.5" lengthAdjust="spacing">Simulation</tspan></text>
</g>
<text font-family="Liberation Serif, serif" fill="#1a1a1a" font-size="20.4" stroke="#1a1a1a" stroke-width="0.3" text-anchor="middle" transform="translate(22,200.3) rotate(-90)">MSP</text>
<g font-family="Liberation Serif, serif" fill="#1a1a1a" font-size="19.4" stroke="#1a1a1a" stroke-width="0.3">
<text y="434.2"><tspan x="271.8" font-style="italic" font-size="20">γ</tspan> <tspan x="287" font-size="20">(</tspan><tspan x="294" font-style="italic">d</tspan><tspan x="305.2" font-style="italic">B</tspan><tspan x="318.6" font-size="20">)</tspan></text>
</g>
<path d="M273.6,422.9 h6" stroke="#1a1a1a" stroke-width="1.1"/>
</svg>
</body></html>
